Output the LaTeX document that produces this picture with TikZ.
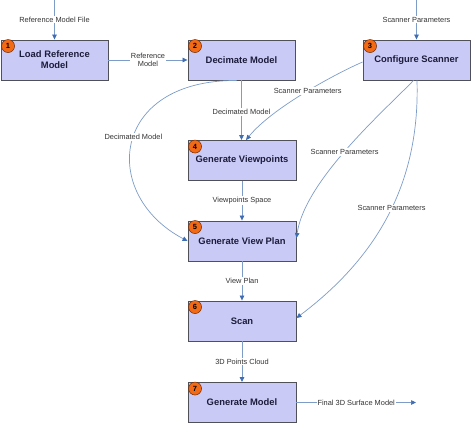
\documentclass[tikz,border=0pt]{standalone}
\usepackage{fontspec}
\setmainfont{Liberation Sans}
\usetikzlibrary{arrows.meta,calc}
\definecolor{boxfill}{HTML}{CACAF6}
\definecolor{boxline}{HTML}{505058}
\definecolor{boxtext}{HTML}{1C1C3C}
\definecolor{badgefill}{HTML}{F26A16}
\definecolor{badgeline}{HTML}{6A2A05}
\definecolor{wire}{HTML}{7D9CC8}
\definecolor{tipc}{HTML}{3E6DB3}
\definecolor{lbltext}{HTML}{333333}
\tikzset{
  procbox/.style={draw=boxline, fill=boxfill, line width=0.9pt, minimum width=107pt, minimum height=40pt,
    align=center, text=boxtext, font=\bfseries\fontsize{9.4}{11}\selectfont, inner sep=1pt},
  badge/.style={circle, draw=badgeline, fill=badgefill, line width=0.5pt, minimum size=13pt, inner sep=0pt,
    font=\bfseries\fontsize{7.5}{8}\selectfont, text=black},
  wirearrow/.style={draw=wire, line width=0.7pt, -{Triangle[length=5pt,width=4.5pt,color=tipc]}},
  lbl/.style={fill=white, inner sep=1pt, text=lbltext, font=\fontsize{7.4}{8.6}\selectfont, align=center}
}
\begin{document}
\begin{tikzpicture}[x=1pt,y=-1pt]
\useasboundingbox (0,0) rectangle (474,426);
% boxes
\node[procbox, minimum width=107pt] (b1) at (54.5,60) {Load Reference\\Model};
\node[procbox] (b2) at (241.5,60) {Decimate Model};
\node[procbox] (b3) at (416.5,60) {Configure Scanner};
\node[procbox, minimum width=108pt] (b4) at (242,160.5) {Generate Viewpoints};
\node[procbox, minimum width=108pt] (b5) at (242,241) {Generate View Plan};
\node[procbox, minimum width=108pt] (b6) at (242,321) {Scan};
\node[procbox, minimum width=108pt] (b7) at (242,402.5) {Generate Model};
% badges
\node[badge] (c1) at ($(b1.north west)+(7.5,6.5)$) {1};
\node[badge] (c2) at ($(b2.north west)+(7.5,6.5)$) {2};
\node[badge] (c3) at ($(b3.north west)+(7.5,6.5)$) {3};
\node[badge] (c4) at ($(b4.north west)+(7.5,6.5)$) {4};
\node[badge] (c5) at ($(b5.north west)+(7.5,6.5)$) {5};
\node[badge] (c6) at ($(b6.north west)+(7.5,6.5)$) {6};
\node[badge] (c7) at ($(b7.north west)+(7.5,6.5)$) {7};
% free ends
\coordinate (in1) at (54.5,0);
\coordinate (in3) at (416.5,0);
\coordinate (out7) at (416,402.5);
% straight connectors
\draw[wirearrow] (in1) -- node[lbl]{Reference Model File} (b1);
\draw[wirearrow] (in3) -- node[lbl]{Scanner Parameters} (b3);
\draw[wirearrow] (b1) -- node[lbl]{Reference\\Model} (b2);
\draw[wirearrow] (b2.south) -- node[lbl, pos=0.53]{Decimated Model} (b2.south |- b4.north);
\draw[wirearrow] (b4) -- node[lbl]{Viewpoints Space} (b5);
\draw[wirearrow] (b5) -- node[lbl]{View Plan} (b6);
\draw[wirearrow] (b6) -- node[lbl]{3D Points Cloud} (b7);
\draw[wirearrow] (b7) -- node[lbl]{Final 3D Surface Model} (out7);
% curved connectors
\draw[wirearrow] ($(b3.west)+(0,2)$) .. controls (335,74) and (272,108) ..
  node[lbl, pos=0.47]{Scanner Parameters} ($(b4.north)+(4,0)$);
\draw[wirearrow] ($(b2.south)+(-5,0)$) .. controls (110,80) and (100,195) ..
  node[lbl, pos=0.47]{Decimated Model} (b5.west);
\draw[wirearrow] ($(b3.south)+(-3,0)$) .. controls (385,110) and (305,180) ..
  node[lbl, pos=0.52]{Scanner Parameters} ($(b5.east)+(0,-3)$);
\draw[wirearrow] ($(b3.south)+(0.5,0)$) .. controls (420,180) and (380,255) ..
  node[lbl, pos=0.48]{Scanner Parameters} ($(b6.east)+(0,-3)$);
\end{tikzpicture}
\end{document}
